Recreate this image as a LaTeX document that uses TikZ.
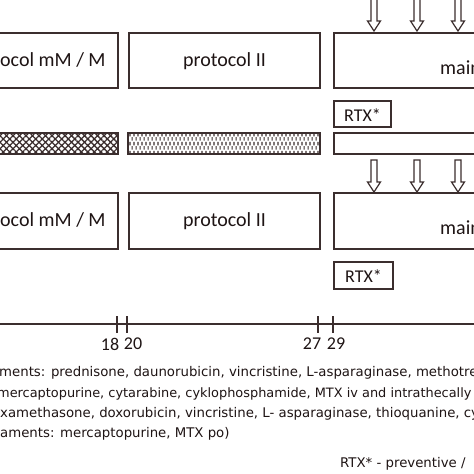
\documentclass[tikz,border=0pt]{standalone}
\usepackage{fontspec}
\newfontfamily\boxfont{Carlito}
\newfontfamily\notefont{DejaVu Sans}
\usetikzlibrary{patterns.meta}
\definecolor{ln}{HTML}{3B2E2E}
\definecolor{tx}{HTML}{1E1414}
\pgfdeclarepatternformonly{vdashes}{\pgfqpoint{0pt}{0pt}}{\pgfqpoint{4.4pt}{9pt}}{\pgfqpoint{4.4pt}{9pt}}{%
  \pgfpathrectangle{\pgfqpoint{0.6pt}{0.4pt}}{\pgfqpoint{1.2pt}{3.8pt}}%
  \pgfpathrectangle{\pgfqpoint{2.8pt}{4.9pt}}{\pgfqpoint{1.2pt}{3.8pt}}%
  \pgfusepath{fill}}
\tikzset{
  boxsty/.style={draw=ln,line width=1.3pt,fill=white},
  arrowsty/.style={draw=ln,line width=1.2pt,fill=white,line join=miter},
  boxtext/.style={text=tx,font=\boxfont\fontsize{20}{22}\selectfont,inner sep=0pt},
  rtxtext/.style={text=tx,font=\boxfont\fontsize{18}{20}\selectfont,inner sep=0pt},
  ticktext/.style={text=tx,font=\boxfont\fontsize{18}{20}\selectfont,inner sep=0pt},
  notetext/.style={text=tx,font=\notefont\fontsize{13.3}{15}\selectfont,inner sep=0pt,anchor=west},
}
\newcommand\harrow[3]{%
  \draw[arrowsty] ({#1-3},#2) -- ({#1+3},#2) -- ({#1+3},{#3-10}) -- ({#1+6.5},{#3-10}) -- (#1,#3) -- ({#1-6.5},{#3-10}) -- ({#1-3},{#3-10}) -- cycle;}
\begin{document}
\begin{tikzpicture}[x=1pt,y=-1pt]
\useasboundingbox (0,0) rectangle (474,474);
\clip (0,0) rectangle (474,474);
\fill[white] (0,0) rectangle (474,474);
% top arrows
\foreach \ax in {374,417,458} {\harrow{\ax}{-2}{31}}
% top row boxes
\draw[boxsty] (-5,33) rectangle (118,88);
\draw[boxsty] (129,33) rectangle (320,88);
\draw[boxsty] (334,33) rectangle (480,88);
\node[boxtext,anchor=west] (t1) at (0,60) {ocol mM / M};
\node[boxtext] (t2) at (224.5,61) {protocol II};
\node[boxtext,anchor=west] (t3) at (440,68) {main};
% RTX box 1
\draw[boxsty] (334,101) rectangle (391,127);
\node[rtxtext] (r1) at (362.5,115) {RTX*};
% bars
\draw[boxsty] (-5,133) rectangle (118,154);
\fill[pattern={Hatch[angle=45,distance=4.6pt,line width=1.3pt]},pattern color=ln] (-5,133) rectangle (118,154);
\draw[draw=ln,line width=1.3pt] (-5,133) rectangle (118,154);
\draw[boxsty] (128,133) rectangle (320,154);
\fill[pattern=vdashes,pattern color=ln] (128,133) rectangle (320,154);
\draw[draw=ln,line width=1.3pt] (128,133) rectangle (320,154);
\draw[boxsty] (334,133) rectangle (480,154);
% lower arrows
\foreach \ax in {374,417,458} {\harrow{\ax}{160}{192}}
% second row boxes
\draw[boxsty] (-5,193) rectangle (118,249);
\draw[boxsty] (129,193) rectangle (320,249);
\draw[boxsty] (334,193) rectangle (480,249);
\node[boxtext,anchor=west] (u1) at (0,220) {ocol mM / M};
\node[boxtext] (u2) at (224.5,221) {protocol II};
\node[boxtext,anchor=west] (u3) at (440,228) {main};
% RTX box 2
\draw[boxsty] (334,262) rectangle (393,289);
\node[rtxtext] (r2) at (363.5,276.5) {RTX*};
% timeline
\draw[draw=ln,line width=1.3pt] (-5,324) -- (480,324);
\foreach \tx in {117,127,318,333} {\draw[draw=ln,line width=1.1pt] (\tx,316) -- (\tx,333);}
\node[ticktext] (a) at (110,344) {18};
\node[ticktext] (b) at (133,344) {20};
\node[ticktext] (c) at (312,344) {27};
\node[ticktext] (d) at (336,344) {29};
% notes
\node[notetext] (n1) at (-1,373) {ments: prednisone, daunorubicin, vincristine, L-asparaginase, methotre};
\node[notetext,font=\notefont\fontsize{12.9}{15}\selectfont] (n2) at (-3,394) {mercaptopurine, cytarabine, cyklophosphamide, MTX iv and intrathecally};
\node[notetext] (n3) at (0,414) {xamethasone, doxorubicin, vincristine, L- asparaginase, thioquanine, cy};
\node[notetext] (n4) at (0,434) {aments: mercaptopurine, MTX po)};
\node[notetext] (n5) at (340,464) {RTX* - preventive /};
\end{tikzpicture}
\end{document}
